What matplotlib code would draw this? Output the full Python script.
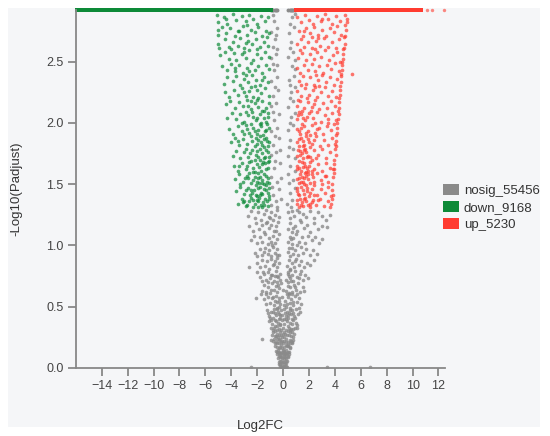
import matplotlib
matplotlib.use("Agg")
from matplotlib import pyplot as plt
from matplotlib.patches import Patch

plt.rcParams["font.family"] = ["Liberation Sans", "DejaVu Sans"]

# values (estimated)
y_top = 2.92

green_top_x = [-15.95, -15.7, -15.45, -15.15, -14.9, -14.6, -14.35, -14.05, -13.8, -13.5,
               -13.25, -12.95, -12.7, -12.4, -12.15, -11.85, -11.6, -11.3, -11.05, -10.75,
               -10.5, -10.2, -9.95, -9.65, -9.4, -9.1, -8.85, -8.55, -8.3, -8.0,
               -7.75, -7.45, -7.2, -6.9, -6.65, -6.35, -6.1, -5.8, -5.55, -5.25,
               -5.0, -4.7, -4.45, -4.15, -3.9, -3.6, -3.35, -3.05, -2.8, -2.5,
               -2.25, -1.95, -1.7, -1.4, -1.15, -0.95]

red_top_x = [1.0, 1.25, 1.5, 1.75, 2.0, 2.25, 2.5, 2.75, 3.0, 3.25, 3.5, 3.75, 4.0, 4.25,
             4.5, 4.75, 5.0, 5.25, 5.5, 5.75, 6.0, 6.25, 6.5, 6.75, 7.0, 7.25, 7.5, 7.75,
             8.0, 8.25, 8.5, 8.75, 9.0, 9.25, 9.5, 9.75, 10.0, 10.25, 10.5, 10.65]
red_top_far_x = [11.1, 11.5, 12.45]

gray_top_x = [-0.95, -0.85, -0.75, -0.65, -0.55, -0.45, 0.4, 0.5, 0.6, 0.7, 0.8, 0.9]

green_pts = [
    (-5.1, 2.88), (-5.05, 2.82), (-4.6, 2.86), (-4.3, 2.81), (-3.9, 2.89), (-3.6, 2.84), (-3.2, 2.87),
    (-2.9, 2.83), (-2.6, 2.88), (-2.3, 2.85), (-2.0, 2.81), (-1.7, 2.87), (-1.4, 2.83), (-1.15, 2.86),
    (-5.05, 2.76), (-5.0, 2.72), (-4.7, 2.78), (-4.4, 2.73), (-4.1, 2.77), (-3.7, 2.71), (-3.4, 2.75),
    (-3.1, 2.79), (-2.8, 2.72), (-2.5, 2.76), (-2.2, 2.74), (-1.9, 2.78), (-1.6, 2.71), (-1.3, 2.75),
    (-1.05, 2.73), (-5.0, 2.64), (-4.95, 2.61), (-4.5, 2.68), (-4.2, 2.62), (-3.9, 2.66), (-3.5, 2.63),
    (-3.3, 2.69), (-3.0, 2.61), (-2.7, 2.67), (-2.4, 2.64), (-2.1, 2.68), (-1.8, 2.62), (-1.5, 2.66),
    (-1.2, 2.63), (-2.9, 2.65), (-4.85, 2.55), (-4.5, 2.58), (-4.2, 2.52), (-3.8, 2.57), (-3.6, 2.51),
    (-3.2, 2.56), (-2.9, 2.53), (-2.6, 2.59), (-2.3, 2.51), (-2.0, 2.56), (-1.7, 2.53), (-1.4, 2.58),
    (-1.1, 2.54), (-3.0, 2.58), (-4.7, 2.46), (-4.35, 2.43), (-4.0, 2.48), (-3.7, 2.42), (-3.4, 2.47),
    (-3.1, 2.41), (-2.8, 2.45), (-2.5, 2.49), (-2.2, 2.43), (-1.9, 2.46), (-1.6, 2.41), (-1.3, 2.47),
    (-1.05, 2.44), (-2.6, 2.42), (-4.6, 2.32), (-4.3, 2.37), (-3.9, 2.34), (-3.6, 2.38), (-3.3, 2.31),
    (-3.0, 2.36), (-2.7, 2.33), (-2.4, 2.39), (-2.1, 2.35), (-1.8, 2.31), (-1.5, 2.37), (-1.2, 2.33),
    (-2.9, 2.39), (-2.2, 2.30), (-4.5, 2.25), (-4.2, 2.21), (-3.8, 2.27), (-3.5, 2.23), (-3.2, 2.28),
    (-2.9, 2.22), (-2.6, 2.26), (-2.3, 2.21), (-2.0, 2.27), (-1.7, 2.24), (-1.4, 2.28), (-1.1, 2.22),
    (-2.5, 2.29), (-1.9, 2.20), (-4.4, 2.15), (-4.1, 2.18), (-3.7, 2.12), (-3.4, 2.17), (-3.1, 2.14),
    (-2.8, 2.19), (-2.5, 2.11), (-2.2, 2.16), (-1.9, 2.13), (-1.6, 2.18), (-1.3, 2.12), (-1.05, 2.16),
    (-2.7, 2.14), (-2.0, 2.19), (-1.5, 2.10), (-4.3, 2.04), (-3.95, 2.08), (-3.6, 2.03), (-3.3, 2.07),
    (-3.0, 2.01), (-2.7, 2.06), (-2.4, 2.09), (-2.1, 2.02), (-1.8, 2.07), (-1.5, 2.04), (-1.2, 2.08),
    (-2.3, 2.05), (-1.7, 2.00), (-1.35, 2.01), (-2.9, 2.09), (-4.15, 1.95), (-3.85, 1.91), (-3.5, 1.97),
    (-3.2, 1.93), (-2.9, 1.98), (-2.6, 1.92), (-2.3, 1.96), (-2.0, 1.91), (-1.7, 1.97), (-1.4, 1.93),
    (-1.1, 1.96), (-2.5, 1.99), (-1.9, 1.94), (-1.55, 1.90), (-3.0, 1.91), (-1.25, 1.99), (-4.05, 1.84),
    (-3.7, 1.88), (-3.4, 1.82), (-3.1, 1.87), (-2.8, 1.83), (-2.5, 1.89), (-2.2, 1.81), (-1.9, 1.86),
    (-1.6, 1.82), (-1.3, 1.88), (-1.05, 1.84), (-2.4, 1.85), (-1.75, 1.89), (-1.45, 1.80), (-2.0, 1.83),
    (-1.2, 1.81), (-3.9, 1.73), (-3.6, 1.77), (-3.3, 1.71), (-3.0, 1.76), (-2.7, 1.72), (-2.4, 1.78),
    (-2.1, 1.74), (-1.8, 1.79), (-1.5, 1.71), (-1.2, 1.76), (-2.2, 1.70), (-1.65, 1.75), (-1.35, 1.78),
    (-1.95, 1.72), (-2.55, 1.75), (-1.1, 1.72), (-2.85, 1.79), (-3.8, 1.65), (-3.5, 1.61), (-3.2, 1.67),
    (-2.9, 1.62), (-2.6, 1.68), (-2.3, 1.63), (-2.0, 1.66), (-1.7, 1.61), (-1.4, 1.67), (-1.15, 1.63),
    (-2.45, 1.69), (-1.85, 1.64), (-1.55, 1.68), (-2.15, 1.60), (-1.3, 1.62), (-2.75, 1.65), (-1.05, 1.69),
    (-3.7, 1.54), (-3.4, 1.58), (-3.1, 1.52), (-2.8, 1.57), (-2.5, 1.51), (-2.2, 1.56), (-1.9, 1.59),
    (-1.6, 1.53), (-1.3, 1.57), (-1.1, 1.51), (-2.35, 1.53), (-2.05, 1.52), (-1.75, 1.56), (-1.45, 1.50),
    (-2.65, 1.59), (-1.2, 1.55), (-1.85, 1.51), (-2.95, 1.55), (-3.6, 1.44), (-3.3, 1.48), (-3.0, 1.42),
    (-2.7, 1.47), (-2.4, 1.43), (-2.1, 1.49), (-1.8, 1.41), (-1.5, 1.46), (-1.2, 1.43), (-2.25, 1.45),
    (-1.95, 1.47), (-1.65, 1.42), (-1.35, 1.49), (-2.55, 1.41), (-1.1, 1.47), (-2.85, 1.45), (-1.75, 1.48),
    (-2.0, 1.40), (-3.5, 1.34), (-3.2, 1.38), (-2.9, 1.32), (-2.6, 1.36), (-2.3, 1.31), (-2.0, 1.37),
    (-1.7, 1.33), (-1.4, 1.38), (-1.15, 1.32), (-2.15, 1.34), (-1.85, 1.39), (-1.55, 1.35), (-2.45, 1.39),
    (-1.25, 1.36), (-2.75, 1.33), (-1.95, 1.31), (-1.6, 1.31), (-1.05, 1.38), (-3.05, 1.36), (-2.35, 1.37),
    (-1.1, 1.40), (-1.3, 1.45), (-1.5, 1.33), (-1.7, 1.43), (-1.9, 1.36), (-2.1, 1.41), (-1.25, 1.52),
    (-1.45, 1.58), (-1.65, 1.51), (-1.9, 1.55), (-2.3, 1.60), (-1.15, 1.68), (-1.4, 1.72), (-1.6, 1.66),
    (-1.8, 1.70), (-2.0, 1.77), (-1.25, 1.85), (-1.5, 1.87), (-1.7, 1.84), (-2.1, 1.88), (-1.35, 1.94),
    (-1.8, 1.99), (-2.2, 1.93), (-1.15, 2.05), (-1.6, 2.10), (-2.0, 2.04), (-2.5, 2.18), (-3.2, 2.00),
    (-3.5, 1.85), (-3.0, 2.25), (-3.7, 2.45), (-4.0, 2.60), (-4.4, 2.85), (-2.0, 2.60), (-1.6, 2.35),
    (-2.8, 2.80), (-3.5, 2.75), (-1.25, 2.70), (-2.5, 1.45), (-2.7, 1.55), (-3.3, 1.50), (-3.4, 1.65),
    (-3.1, 1.35), (-2.8, 1.95),
]

red_pts = [
    (1.1, 2.86), (1.4, 2.82), (1.7, 2.88), (2.0, 2.84), (2.3, 2.81), (2.6, 2.87), (2.9, 2.83), (3.2, 2.89),
    (3.5, 2.85), (3.8, 2.81), (4.1, 2.87), (4.4, 2.83), (4.75, 2.88), (4.95, 2.85), (4.9, 2.82),
    (1.2, 2.75), (1.5, 2.71), (1.8, 2.77), (2.1, 2.73), (2.4, 2.78), (2.7, 2.72), (3.0, 2.76), (3.3, 2.71),
    (3.6, 2.77), (3.9, 2.74), (4.2, 2.79), (4.5, 2.72), (4.85, 2.76), (4.8, 2.71), (2.2, 2.70),
    (1.05, 2.64), (1.35, 2.68), (1.65, 2.62), (1.95, 2.66), (2.25, 2.61), (2.55, 2.67), (2.85, 2.63),
    (3.15, 2.69), (3.45, 2.62), (3.75, 2.66), (4.05, 2.61), (4.35, 2.68), (4.75, 2.64), (4.7, 2.61),
    (2.7, 2.69), (1.15, 2.53), (1.45, 2.57), (1.75, 2.51), (2.05, 2.56), (2.35, 2.52), (2.65, 2.58),
    (2.95, 2.54), (3.25, 2.59), (3.55, 2.51), (3.85, 2.55), (4.15, 2.58), (4.65, 2.56), (4.62, 2.52),
    (4.4, 2.50), (1.3, 2.59), (1.05, 2.45), (1.3, 2.41), (1.6, 2.47), (1.9, 2.43), (2.2, 2.48), (2.5, 2.42),
    (2.8, 2.46), (3.1, 2.41), (3.4, 2.47), (3.7, 2.44), (4.0, 2.49), (4.3, 2.42), (4.58, 2.47), (4.55, 2.43),
    (5.3, 2.40), (1.2, 2.34), (1.5, 2.38), (1.8, 2.32), (2.1, 2.37), (2.4, 2.31), (2.7, 2.35), (3.0, 2.39),
    (3.3, 2.33), (3.6, 2.37), (3.9, 2.31), (4.2, 2.36), (4.5, 2.38), (4.48, 2.33), (1.35, 2.31), (2.55, 2.39),
    (1.1, 2.26), (1.4, 2.22), (1.7, 2.28), (2.0, 2.23), (2.3, 2.27), (2.6, 2.21), (2.9, 2.25), (3.2, 2.29),
    (3.5, 2.22), (3.8, 2.26), (4.1, 2.21), (4.42, 2.27), (4.4, 2.23), (1.85, 2.20), (2.45, 2.29),
    (1.05, 2.14), (1.3, 2.18), (1.6, 2.12), (1.9, 2.17), (2.2, 2.13), (2.5, 2.19), (2.8, 2.11), (3.1, 2.16),
    (3.4, 2.12), (3.7, 2.18), (4.0, 2.14), (4.34, 2.17), (4.32, 2.12), (1.45, 2.10), (2.35, 2.15), (1.15, 2.19),
    (1.1, 2.03), (1.4, 2.07), (1.7, 2.02), (2.0, 2.08), (2.3, 2.04), (2.6, 2.09), (2.9, 2.01), (3.2, 2.06),
    (3.5, 2.03), (3.8, 2.08), (4.1, 2.02), (4.28, 2.07), (4.25, 2.03), (1.25, 2.09), (1.85, 2.05), (2.45, 2.00),
    (1.05, 1.95), (1.3, 1.91), (1.6, 1.97), (1.9, 1.93), (2.2, 1.98), (2.5, 1.92), (2.8, 1.96), (3.1, 1.91),
    (3.4, 1.97), (3.7, 1.94), (3.95, 1.99), (4.2, 1.96), (4.18, 1.92), (1.45, 1.99), (2.05, 1.90), (2.65, 1.95),
    (1.2, 1.93), (1.1, 1.84), (1.35, 1.88), (1.65, 1.82), (1.95, 1.87), (2.25, 1.83), (2.55, 1.89), (2.85, 1.81),
    (3.15, 1.86), (3.45, 1.82), (3.75, 1.88), (4.12, 1.85), (4.1, 1.81), (1.5, 1.85), (1.8, 1.89), (2.1, 1.80),
    (2.4, 1.86), (1.25, 1.81), (1.05, 1.73), (1.3, 1.77), (1.55, 1.71), (1.8, 1.76), (2.1, 1.72), (2.4, 1.78),
    (2.7, 1.74), (3.0, 1.79), (3.3, 1.71), (3.6, 1.76), (4.05, 1.74), (4.02, 1.79), (1.45, 1.75), (1.7, 1.79),
    (1.95, 1.73), (2.25, 1.70), (1.15, 1.78), (2.55, 1.71), (1.1, 1.65), (1.35, 1.61), (1.6, 1.67), (1.85, 1.63),
    (2.1, 1.68), (2.4, 1.62), (2.7, 1.66), (3.0, 1.61), (3.3, 1.67), (3.6, 1.63), (3.97, 1.66), (3.95, 1.62),
    (1.25, 1.69), (1.5, 1.64), (1.75, 1.60), (2.0, 1.65), (2.25, 1.61), (1.05, 1.62), (1.05, 1.54), (1.3, 1.58),
    (1.55, 1.52), (1.8, 1.57), (2.05, 1.51), (2.3, 1.56), (2.6, 1.59), (2.9, 1.53), (3.2, 1.57), (3.5, 1.52),
    (3.88, 1.56), (3.9, 1.59), (1.2, 1.51), (1.45, 1.56), (1.7, 1.59), (1.95, 1.54), (2.2, 1.58), (1.6, 1.50),
    (1.1, 1.44), (1.35, 1.48), (1.6, 1.42), (1.85, 1.47), (2.1, 1.43), (2.35, 1.49), (2.65, 1.41), (2.95, 1.46),
    (3.25, 1.43), (3.5, 1.48), (3.8, 1.45), (3.82, 1.41), (1.25, 1.41), (1.5, 1.45), (1.75, 1.49), (2.0, 1.40),
    (1.05, 1.47), (2.25, 1.46), (1.05, 1.34), (1.3, 1.38), (1.55, 1.32), (1.8, 1.36), (2.05, 1.31), (2.3, 1.37),
    (2.55, 1.33), (2.85, 1.38), (3.15, 1.32), (3.45, 1.36), (3.72, 1.34), (3.75, 1.38), (1.2, 1.31), (1.45, 1.35),
    (1.7, 1.39), (1.95, 1.33), (2.2, 1.35), (1.1, 1.37), (3.65, 1.31),
    (1.15, 1.42), (1.4, 1.33), (1.6, 1.38), (1.85, 1.44), (2.1, 1.34), (2.4, 1.41), (1.2, 1.55), (1.4, 1.52),
    (1.65, 1.55), (1.9, 1.58), (2.4, 1.52), (1.2, 1.63), (1.45, 1.68), (1.7, 1.65), (1.95, 1.61), (1.3, 1.74),
    (1.6, 1.78), (1.85, 1.72), (1.2, 1.87), (1.55, 1.81), (2.0, 1.84), (1.35, 1.96), (1.75, 1.92), (1.15, 2.06),
    (1.55, 2.04), (2.15, 2.10), (3.78, 1.50), (3.85, 1.62), (3.93, 1.70), (4.0, 1.83), (4.08, 1.90),
    (4.15, 2.00), (4.22, 2.10), (4.3, 2.20), (4.38, 2.30), (4.45, 2.40), (4.52, 2.50), (4.6, 2.60),
    (4.68, 2.70), (4.75, 2.80), (3.7, 1.40), (2.7, 1.37), (3.0, 1.50), (3.3, 1.57), (2.5, 2.60), (3.0, 2.85),
    (1.6, 2.75), (2.8, 2.30), (3.5, 2.00),
]

gray_pts = [
    # below the significance line
    (-0.4, 0.08), (-0.3, 0.05), (-0.2, 0.03), (-0.1, 0.01), (0.0, 0.0), (0.1, 0.02), (0.2, 0.04),
    (0.3, 0.06), (0.4, 0.09), (-0.25, 0.09), (-0.15, 0.06), (-0.05, 0.04), (0.05, 0.07), (0.15, 0.09),
    (0.25, 0.08), (0.35, 0.1), (-0.35, 0.1), (0.0, 0.05), (-0.1, 0.08), (0.1, 0.1), (0.05, 0.01),
    (-0.05, 0.02), (-2.5, 0.01), (3.4, 0.01), (6.75, 0.01),
    (-0.35, 0.03), (-0.25, 0.02), (-0.15, 0.01), (0.15, 0.03), (0.25, 0.02), (0.3, 0.01), (-0.3, 0.12),
    (-0.2, 0.1), (-0.1, 0.11), (0.05, 0.13), (0.15, 0.12), (0.25, 0.11), (0.35, 0.13), (-0.45, 0.13),
    (0.45, 0.11), (-0.05, 0.09), (0.0, 0.15), (-0.2, 0.06), (0.2, 0.06), (0.1, 0.05),
    (-0.65, 0.18), (-0.55, 0.14), (-0.45, 0.11), (-0.35, 0.16), (-0.25, 0.12), (-0.15, 0.19), (-0.05, 0.13),
    (0.05, 0.17), (0.15, 0.11), (0.25, 0.15), (0.35, 0.19), (0.45, 0.13), (0.55, 0.17), (0.65, 0.2),
    (-0.5, 0.2), (-0.3, 0.13), (-0.1, 0.16), (0.1, 0.14), (0.3, 0.12), (0.5, 0.16), (-0.2, 0.17),
    (0.2, 0.19), (0.0, 0.12), (-0.4, 0.15), (0.4, 0.18),
    (-0.7, 0.24), (-0.6, 0.2), (-0.5, 0.17), (-0.45, 0.24), (-0.3, 0.2), (-0.1, 0.22), (0.1, 0.25),
    (0.3, 0.27), (0.5, 0.2), (0.6, 0.26), (0.7, 0.21), (0.8, 0.23), (-0.8, 0.29), (-0.3, 0.27),
    (0.1, 0.29), (0.3, 0.18), (-0.15, 0.27), (0.0, 0.2), (0.5, 0.29), (-0.55, 0.26),
    (-0.85, 0.27), (-0.75, 0.22), (-0.65, 0.26), (-0.55, 0.21), (-0.45, 0.28), (-0.35, 0.23), (-0.25, 0.29),
    (-0.15, 0.21), (-0.05, 0.25), (0.05, 0.22), (0.15, 0.28), (0.25, 0.24), (0.35, 0.21), (0.45, 0.27),
    (0.55, 0.23), (0.65, 0.29), (0.75, 0.25), (0.85, 0.28), (-0.6, 0.3), (-0.4, 0.25), (-0.2, 0.24),
    (0.0, 0.28), (0.2, 0.21), (0.4, 0.3), (0.6, 0.22), (-1.64, 0.24), (-0.9, 0.23),
    (-1.05, 0.38), (-0.95, 0.33), (-0.85, 0.36), (-0.75, 0.31), (-0.6, 0.39), (-0.5, 0.34), (-0.4, 0.37),
    (-0.3, 0.32), (-0.2, 0.35), (-0.1, 0.39), (0.0, 0.33), (0.1, 0.36), (0.2, 0.31), (0.3, 0.38),
    (0.4, 0.34), (0.5, 0.37), (0.6, 0.32), (0.7, 0.36), (0.8, 0.39), (0.9, 0.33), (1.0, 0.37),
    (1.1, 0.35), (-0.65, 0.34), (-0.35, 0.4), (0.25, 0.4), (0.55, 0.31), (-0.15, 0.31),
    (-1.15, 0.45), (-1.0, 0.41), (-0.9, 0.39), (-0.8, 0.46), (-0.7, 0.33), (-0.55, 0.38), (-0.45, 0.31),
    (-0.4, 0.46), (-0.25, 0.36), (-0.2, 0.43), (0.05, 0.4), (0.15, 0.45), (0.35, 0.43), (0.45, 0.33),
    (0.65, 0.4), (0.75, 0.32), (0.8, 0.45), (0.95, 0.41), (1.05, 0.33), (1.2, 0.49), (-0.5, 0.48),
    (0.55, 0.47),
    (-1.25, 0.47), (-1.1, 0.42), (-0.95, 0.46), (-0.8, 0.41), (-0.7, 0.48), (-0.55, 0.43), (-0.45, 0.49),
    (-0.35, 0.44), (-0.25, 0.41), (-0.15, 0.47), (-0.05, 0.43), (0.1, 0.48), (0.2, 0.42), (0.3, 0.46),
    (0.4, 0.41), (0.5, 0.49), (0.6, 0.44), (0.7, 0.47), (0.85, 0.42), (1.0, 0.48), (1.15, 0.44),
    (1.3, 0.46), (-0.6, 0.45), (0.45, 0.45), (-0.3, 0.5), (0.25, 0.5),
    (-1.45, 0.56), (-1.3, 0.52), (-1.15, 0.58), (-1.0, 0.53), (-0.85, 0.57), (-0.7, 0.51), (-0.55, 0.59),
    (-0.45, 0.54), (-0.35, 0.57), (-0.2, 0.52), (0.15, 0.55), (0.3, 0.52), (0.4, 0.58), (0.5, 0.53),
    (0.6, 0.56), (0.75, 0.51), (0.9, 0.59), (1.05, 0.54), (1.2, 0.57), (1.4, 0.52), (-0.6, 0.55),
    (0.45, 0.6), (-2.1, 0.57), (-0.1, 0.58), (0.05, 0.51), (-1.7, 0.6),
    (-1.35, 0.6), (-1.2, 0.7), (-0.9, 0.64), (-0.75, 0.58), (-0.65, 0.75), (-0.4, 0.68), (-0.3, 0.55),
    (-0.25, 0.72), (0.3, 0.6), (0.35, 0.77), (0.6, 0.71), (0.65, 0.6), (0.8, 0.54), (0.95, 0.66),
    (1.1, 0.6), (1.25, 0.73), (1.4, 0.79), (-1.55, 0.78), (-0.95, 0.76), (0.55, 0.8),
    (-1.6, 0.63), (-1.45, 0.68), (-1.3, 0.62), (-1.15, 0.66), (-1.0, 0.61), (-0.85, 0.69), (-0.7, 0.64),
    (-0.55, 0.67), (-0.45, 0.62), (-0.3, 0.65), (-0.15, 0.69), (0.2, 0.63), (0.35, 0.67), (0.45, 0.61),
    (0.55, 0.66), (0.7, 0.62), (0.85, 0.68), (1.0, 0.64), (1.15, 0.69), (1.3, 0.62), (1.5, 0.66),
    (1.65, 0.63), (-0.5, 0.7), (0.4, 0.7), (0.0, 0.64),
    (-1.8, 0.74), (-1.6, 0.71), (-1.45, 0.77), (-1.3, 0.72), (-1.15, 0.78), (-1.0, 0.73), (-0.85, 0.76),
    (-0.7, 0.71), (-0.55, 0.79), (-0.4, 0.74), (-0.25, 0.77), (0.25, 0.72), (0.4, 0.78), (0.5, 0.73),
    (0.65, 0.76), (0.8, 0.71), (0.95, 0.79), (1.1, 0.74), (1.3, 0.77), (1.5, 0.72), (1.7, 0.76),
    (1.9, 0.73), (-0.5, 0.75), (0.45, 0.75), (-2.0, 0.78),
    (-2.0, 0.86), (-1.8, 0.82), (-1.6, 0.88), (-1.4, 0.83), (-1.25, 0.87), (-1.1, 0.81), (-0.95, 0.89),
    (-0.8, 0.84), (-0.65, 0.87), (-0.5, 0.82), (-0.35, 0.86), (0.3, 0.83), (0.45, 0.88), (0.55, 0.81),
    (0.7, 0.86), (0.85, 0.82), (1.0, 0.89), (1.2, 0.84), (1.4, 0.87), (1.6, 0.82), (1.85, 0.86),
    (2.1, 0.84), (2.4, 0.88), (-2.66, 0.82), (-0.45, 0.9),
    (-2.2, 0.94), (-2.0, 0.91), (-1.8, 0.97), (-1.6, 0.92), (-1.4, 0.98), (-1.2, 0.93), (-1.05, 0.96),
    (-0.9, 0.91), (-0.75, 0.99), (-0.6, 0.94), (-0.45, 0.97), (-0.3, 0.92), (0.35, 0.95), (0.5, 0.91),
    (0.65, 0.98), (0.8, 0.93), (0.95, 0.96), (1.15, 0.92), (1.35, 0.99), (1.55, 0.94), (1.8, 0.97),
    (2.05, 0.92), (2.3, 0.96), (2.6, 0.93), (-0.5, 0.92),
    (-1.5, 0.95), (-0.85, 1.0), (-0.55, 1.12), (0.45, 0.98), (0.75, 1.14), (1.1, 1.0), (-1.0, 1.22),
    (0.6, 1.05), (-0.7, 0.85), (0.9, 0.87), (-1.35, 1.18), (1.25, 1.27),
    (-2.5, 1.04), (-2.25, 1.08), (-2.0, 1.02), (-1.8, 1.07), (-1.6, 1.03), (-1.4, 1.09), (-1.2, 1.01),
    (-1.05, 1.06), (-0.9, 1.03), (-0.75, 1.08), (-0.6, 1.02), (-0.45, 1.05), (-0.3, 1.09), (0.35, 1.03),
    (0.5, 1.07), (0.65, 1.01), (0.8, 1.06), (1.0, 1.09), (1.2, 1.03), (1.45, 1.07), (1.7, 1.02),
    (1.95, 1.08), (2.2, 1.04), (2.5, 1.07), (2.8, 1.02), (3.0, 1.05),
    (-2.6, 1.16), (-2.35, 1.12), (-2.1, 1.18), (-1.85, 1.13), (-1.65, 1.17), (-1.45, 1.11), (-1.25, 1.19),
    (-1.05, 1.14), (-0.9, 1.17), (-0.7, 1.12), (-0.55, 1.16), (-0.4, 1.19), (0.4, 1.13), (0.55, 1.18),
    (0.7, 1.11), (0.9, 1.16), (1.1, 1.12), (1.35, 1.19), (1.6, 1.14), (1.85, 1.17), (2.1, 1.11),
    (2.4, 1.18), (2.7, 1.13), (3.0, 1.16), (3.4, 1.15),
    (-2.7, 1.24), (-2.45, 1.28), (-2.2, 1.22), (-1.95, 1.27), (-1.7, 1.21), (-1.5, 1.26), (-1.3, 1.29),
    (-1.1, 1.23), (-0.95, 1.27), (-0.8, 1.21), (-0.65, 1.25), (-0.5, 1.29), (-0.35, 1.23), (0.35, 1.27),
    (0.5, 1.22), (0.65, 1.28), (0.85, 1.24), (1.05, 1.29), (1.3, 1.21), (1.55, 1.26), (1.8, 1.23),
    (2.1, 1.28), (2.4, 1.22), (2.7, 1.27), (3.0, 1.24), (3.3, 1.21), (3.6, 1.25),
    # significant p but small fold change
    (-0.95, 1.33), (-0.75, 1.41), (-0.55, 1.36), (-0.3, 1.46), (-0.15, 1.38), (0.3, 1.34), (0.5, 1.43),
    (0.7, 1.37), (0.9, 1.47), (-0.85, 1.48), (0.6, 1.31), (-0.45, 1.31),
    (-0.9, 1.56), (-0.7, 1.63), (-0.5, 1.52), (-0.25, 1.67), (0.35, 1.58), (0.55, 1.65), (0.75, 1.53),
    (0.95, 1.61), (-0.6, 1.69), (0.45, 1.51), (-0.15, 1.55),
    (-0.95, 1.74), (-0.75, 1.82), (-0.55, 1.76), (-0.35, 1.88), (0.35, 1.73), (0.55, 1.86), (0.75, 1.79),
    (0.9, 1.71), (-0.65, 1.89), (0.45, 1.8), (-0.2, 1.78),
    (-0.9, 1.93), (-0.7, 2.02), (-0.5, 1.96), (-0.35, 2.07), (0.4, 1.94), (0.6, 2.05), (0.8, 1.98),
    (0.95, 2.08), (-0.8, 2.09), (0.5, 2.0),
    (-0.95, 2.14), (-0.75, 2.22), (-0.55, 2.16), (-0.4, 2.27), (0.4, 2.13), (0.6, 2.25), (0.8, 2.18),
    (0.95, 2.29), (-0.65, 2.29), (0.5, 2.2),
    (-0.9, 2.34), (-0.7, 2.43), (-0.5, 2.37), (0.45, 2.35), (0.65, 2.46), (0.85, 2.38), (-0.8, 2.48),
    (0.55, 2.31), (-0.45, 2.47), (0.95, 2.44),
    (-0.95, 2.53), (-0.75, 2.62), (-0.55, 2.56), (0.4, 2.54), (0.6, 2.66), (0.8, 2.58), (-0.65, 2.68),
    (0.5, 2.61), (0.9, 2.51), (-0.45, 2.6),
    (-0.9, 2.74), (-0.7, 2.83), (-0.5, 2.77), (0.45, 2.73), (0.65, 2.86), (0.85, 2.78), (-0.8, 2.88),
    (0.55, 2.81), (0.95, 2.89), (-0.55, 2.72),
]

labels = ["nosig_55456", "down_9168", "up_5230"]
c_gray, c_green, c_red = "#8a8a8a", "#0d8a38", "#ff3b30"

fig = plt.figure(figsize=(5.5, 4.36), dpi=100, facecolor="white")
# light grey panel behind the plot
bg = fig.add_axes([0.0145, 0.02, 0.967, 0.961])
bg.set_facecolor("#f5f6f8")
bg.set_xticks([])
bg.set_yticks([])
for s in bg.spines.values():
    s.set_visible(False)

ax = fig.add_axes([0.138, 0.156, 0.671, 0.821])
ax.set_facecolor("#f5f6f8")

gx, gy = zip(*gray_pts)
ax.scatter(gx, gy, s=7, color=c_gray, alpha=0.8, linewidths=0)
dx, dy = zip(*green_pts)
ax.scatter(dx, dy, s=7, color=c_green, alpha=0.7, linewidths=0)
ux, uy = zip(*red_pts)
ax.scatter(ux, uy, s=7, color=c_red, alpha=0.7, linewidths=0)

ax.scatter(gray_top_x, [y_top] * len(gray_top_x), s=8, color=c_gray, linewidths=0, clip_on=False)
ax.scatter(green_top_x, [y_top] * len(green_top_x), s=9, color=c_green, linewidths=0,
           clip_on=False, marker="s")
ax.scatter(red_top_x, [y_top] * len(red_top_x), s=9, color=c_red, linewidths=0,
           clip_on=False, marker="s")
ax.scatter(red_top_far_x, [y_top] * len(red_top_far_x), s=6, color=c_red, alpha=0.6,
           linewidths=0, clip_on=False)

ax.set_xlim(-16, 12.5)
ax.set_ylim(0, y_top)
ax.set_xticks(range(-14, 13, 2))
ax.set_yticks([0, 0.5, 1.0, 1.5, 2.0, 2.5])
ax.set_yticklabels(["0.0", "0.5", "1.0", "1.5", "2.0", "2.5"])

for side in ["top", "right"]:
    ax.spines[side].set_visible(False)
for side in ["left", "bottom"]:
    ax.spines[side].set_color("#888888")
    ax.spines[side].set_linewidth(1.3)
ax.tick_params(direction="out", length=6, width=1.3, color="#888888",
               labelsize=9, labelcolor="#444444", pad=3)

ax.set_xlabel("Log2FC", fontsize=9.5, color="#333333")
ax.set_ylabel("-Log10(Padjust)", fontsize=9.5, color="#333333")
ax.xaxis.set_label_coords(0.5, -0.145)
ax.yaxis.set_label_coords(-0.145, 0.5)

handles = [Patch(facecolor=c, edgecolor="none") for c in [c_gray, c_green, c_red]]
fig.legend(handles, labels, loc="upper left", bbox_to_anchor=(0.806, 0.578), frameon=False,
           fontsize=9.5, handlelength=1.2, handleheight=0.9, handletextpad=0.35,
           labelspacing=0.3, borderaxespad=0, borderpad=0, labelcolor="#333333")

fig.savefig("out.png", dpi=100)
